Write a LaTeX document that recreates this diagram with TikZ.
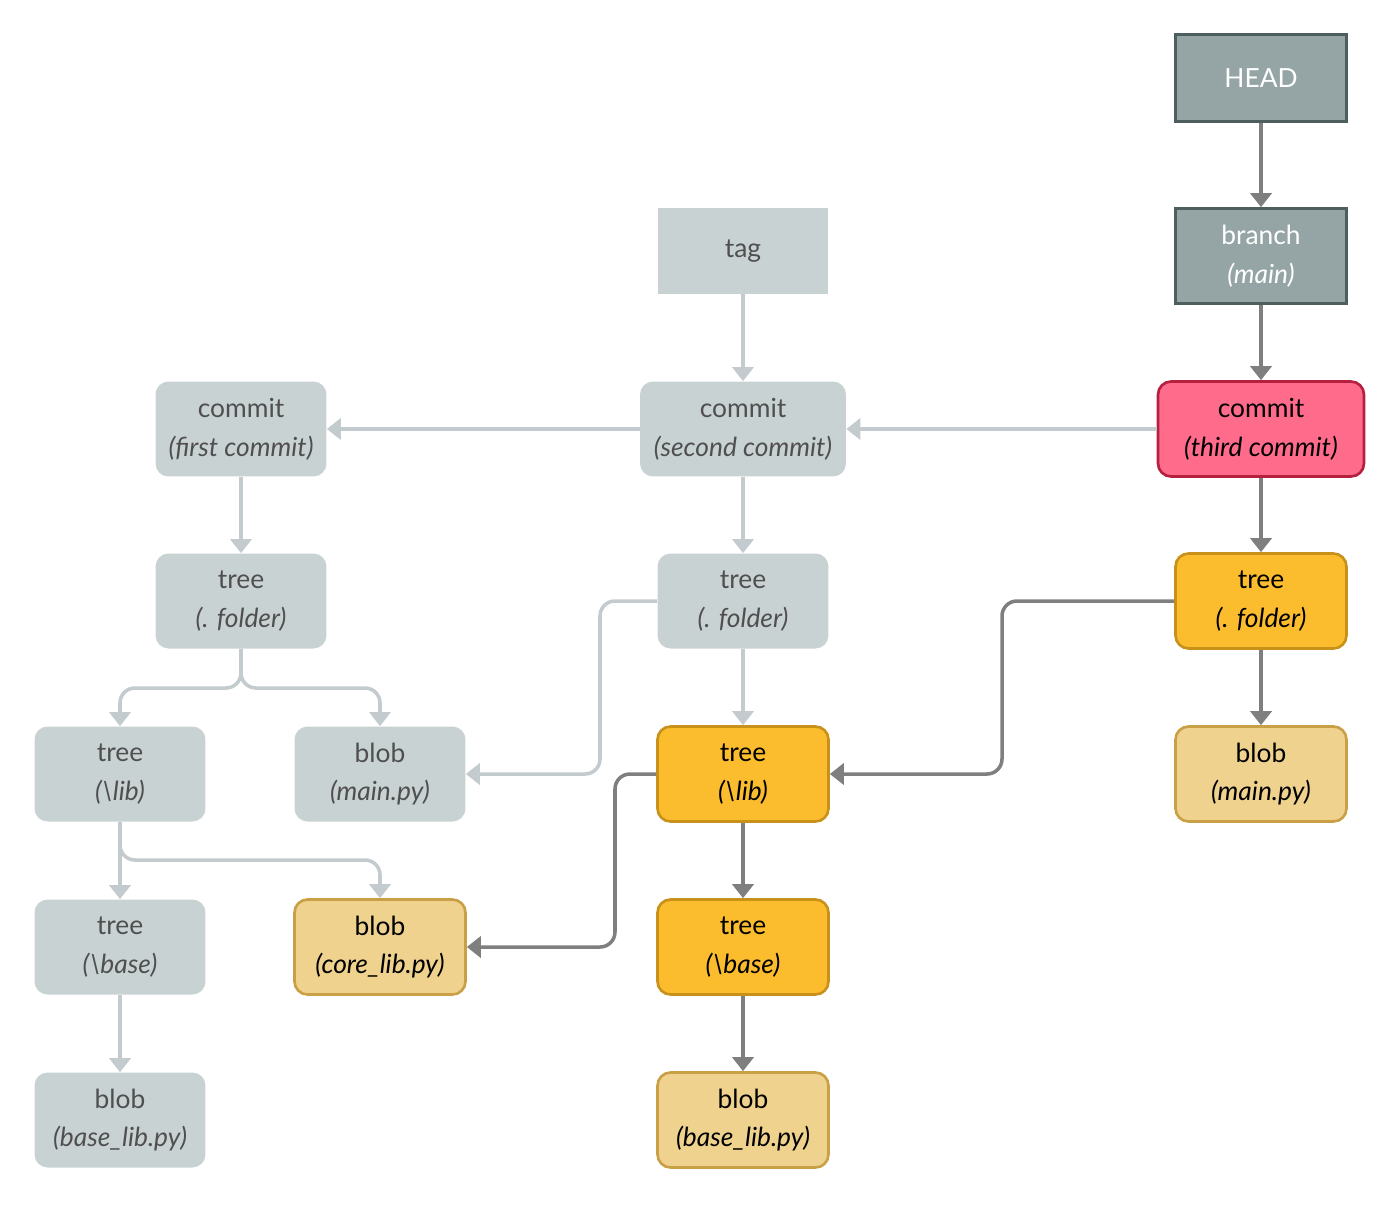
\documentclass[tikz,border=0pt]{standalone}
\usepackage{fontspec}
\setmainfont{Lato}
\usetikzlibrary{arrows.meta}
\definecolor{hd}{HTML}{95A5A6}\definecolor{hdb}{HTML}{4D5E5E}
\definecolor{gr}{HTML}{C9D2D3}\definecolor{grt}{HTML}{4F4F4F}
\definecolor{pk}{HTML}{FF6B8B}\definecolor{pkb}{HTML}{B5203F}
\definecolor{yl}{HTML}{FBBC2E}\definecolor{ylb}{HTML}{C8921A}
\definecolor{ly}{HTML}{F0D28F}\definecolor{lyb}{HTML}{C9A045}
\definecolor{lc}{HTML}{C3CBCE}\definecolor{dc}{HTML}{7F7F7F}
\begin{document}
\begin{tikzpicture}[x=0.02cm,y=-0.02cm,
  box/.style={minimum width=3.42cm,minimum height=1.9cm,align=center,font=\fontsize{15}{22}\selectfont,inner sep=0pt},
  rnd/.style={box,rounded corners=0.26cm},
  gbox/.style={rnd,fill=gr,text=grt},
  ybox/.style={rnd,fill=yl,draw=ylb,line width=1.5pt,text=black},
  lbox/.style={rnd,fill=ly,draw=lyb,line width=1.5pt,text=black},
  la/.style={draw=lc,line width=2pt,rounded corners=0.3cm,-{Triangle[length=8pt,width=12pt]}},
  da/.style={draw=dc,line width=2pt,rounded corners=0.3cm,-{Triangle[length=8pt,width=12pt]}}]
\useasboundingbox (0,0) rectangle (1400,1204);
\node[box,fill=hd,draw=hdb,line width=1.5pt,text=white,minimum height=1.74cm] (head) at (1261,78) {HEAD};
\node[box,fill=hd,draw=hdb,line width=1.5pt,text=white] (branch) at (1261,256) {branch\\\textit{(main)}};
\node[box,fill=gr,text=grt,minimum height=1.72cm] (tag) at (743,251) {tag};
\node[gbox] (c1) at (241,429) {commit\\\textit{(first commit)}};
\node[gbox,minimum width=4.12cm] (c2) at (743,429) {commit\\\textit{(second commit)}};
\node[rnd,fill=pk,draw=pkb,line width=1.5pt,minimum width=4.12cm] (c3) at (1261,429) {commit\\\textit{(third commit)}};
\node[gbox] (t1) at (241,601) {tree\\\textit{(. folder)}};
\node[gbox] (t2) at (743,601) {tree\\\textit{(. folder)}};
\node[ybox] (t3) at (1261,601) {tree\\\textit{(. folder)}};
\node[gbox] (lib1) at (120,774) {tree\\\textit{(\textbackslash lib)}};
\node[gbox] (m1) at (380,774) {blob\\\textit{(main.py)}};
\node[ybox] (lib2) at (743,774) {tree\\\textit{(\textbackslash lib)}};
\node[lbox] (m3) at (1261,774) {blob\\\textit{(main.py)}};
\node[gbox] (b1) at (120,947) {tree\\\textit{(\textbackslash base)}};
\node[lbox] (core) at (380,947) {blob\\\textit{(core\_lib.py)}};
\node[ybox] (b2) at (743,947) {tree\\\textit{(\textbackslash base)}};
\node[gbox] (bl1) at (120,1120) {blob\\\textit{(base\_lib.py)}};
\node[lbox] (bl2) at (743,1120) {blob\\\textit{(base\_lib.py)}};
\draw[da] (head) -- (branch);
\draw[da] (branch) -- (c3);
\draw[la] (tag) -- (c2);
\draw[la] (c2) -- (c1);
\draw[la] (c3) -- (c2);
\draw[la] (c1) -- (t1);
\draw[la] (c2) -- (t2);
\draw[da] (c3) -- (t3);
\draw[la] (t1.south) -- (241,688) -| (lib1.north);
\draw[la] (t1.south) -- (241,688) -| (m1.north);
\draw[la] (t2.west) -| (600,774) -- (m1.east);
\draw[la] (t2) -- (lib2);
\draw[da] (t3.west) -| (1002,774) -- (lib2.east);
\draw[da] (t3) -- (m3);
\draw[la] (lib1) -- (b1);
\draw[la] (lib1.south) |- (380,860) -- (core.north);
\draw[da] (lib2.west) -| (615,947) -- (core.east);
\draw[da] (lib2) -- (b2);
\draw[da] (b2) -- (bl2);
\draw[la] (b1) -- (bl1);
\end{tikzpicture}
\end{document}
